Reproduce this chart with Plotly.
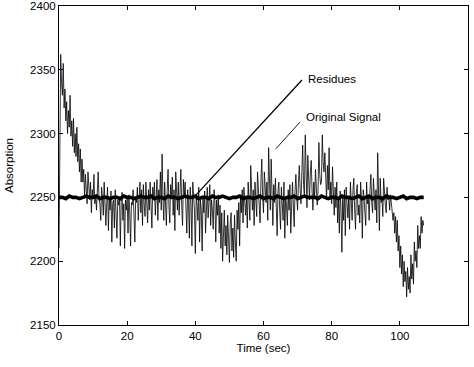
import plotly.graph_objects as go

# ---- data (0.25 s sampling) ----
t_step = 0.25
signal = [
    2210, 2300, 2362, 2340,  2330, 2355, 2320, 2335,  2310, 2325, 2300, 2318,
    2305, 2330, 2298, 2310,  2290, 2312, 2285, 2300,  2282, 2305, 2278, 2292,
    2270, 2288, 2262, 2280,  2262, 2272, 2250, 2268,  2255, 2245, 2270, 2252,
    2248, 2262, 2238, 2256,  2250, 2268, 2245, 2252,  2240, 2255, 2270, 2248,
    2245, 2232, 2258, 2250,  2236, 2262, 2244, 2228,  2246, 2258, 2224, 2250,
    2240, 2255, 2215, 2245,  2248, 2226, 2256, 2240,  2218, 2248, 2244, 2250,
    2212, 2246, 2254, 2232,  2245, 2210, 2248, 2240,  2250, 2222, 2252, 2238,
    2212, 2246, 2244, 2256,  2236, 2215, 2250, 2246,  2258, 2232, 2248, 2262,
    2238, 2256, 2228, 2260,  2244, 2235, 2262, 2248,  2230, 2256, 2240, 2262,
    2244, 2226, 2258, 2248,  2262, 2236, 2250, 2264,  2232, 2256, 2246, 2270,
    2240, 2284, 2250, 2232,  2262, 2248, 2228, 2256,  2272, 2244, 2230, 2260,
    2250, 2266, 2236, 2256,  2224, 2270, 2248, 2240,  2262, 2236, 2254, 2272,
    2244, 2228, 2264, 2250,  2262, 2240, 2222, 2256,  2246, 2218, 2258, 2244,
    2212, 2262, 2250, 2240,  2206, 2250, 2245, 2232,  2258, 2215, 2248, 2240,
    2208, 2250, 2238, 2255,  2222, 2246, 2258, 2234,  2250, 2260, 2228, 2248,
    2240, 2225, 2256, 2246,  2215, 2248, 2236, 2252,  2222, 2244, 2210, 2238,
    2200, 2232, 2240, 2212,  2228, 2205, 2236, 2218,  2199, 2230, 2238, 2208,
    2226, 2203, 2236, 2215,  2200, 2240, 2225, 2246,  2212, 2250, 2238, 2256,
    2230, 2258, 2244, 2236,  2250, 2226, 2262, 2246,  2232, 2275, 2250, 2240,
    2256, 2228, 2262, 2248,  2235, 2270, 2252, 2244,  2230, 2264, 2280, 2250,
    2238, 2270, 2255, 2246,  2262, 2232, 2289, 2252,  2240, 2280, 2254, 2228,
    2260, 2246, 2265, 2236,  2220, 2255, 2262, 2240,  2225, 2258, 2248, 2232,
    2262, 2218, 2250, 2244,  2228, 2256, 2240, 2260,  2222, 2250, 2262, 2244,
    2227, 2255, 2268, 2250,  2240, 2262, 2275, 2256,  2245, 2270, 2291, 2260,
    2250, 2299, 2266, 2242,  2283, 2258, 2248, 2270,  2279, 2255, 2240, 2262,
    2250, 2272, 2258, 2244,  2255, 2293, 2268, 2260,  2262, 2299, 2278, 2270,
    2285, 2262, 2248, 2275,  2256, 2289, 2248, 2262,  2245, 2274, 2255, 2236,
    2258, 2242, 2262, 2230,  2250, 2222, 2255, 2240,  2207, 2250, 2232, 2256,
    2220, 2258, 2246, 2234,  2250, 2225, 2262, 2242,  2232, 2256, 2265, 2240,
    2225, 2254, 2260, 2236,  2244, 2230, 2262, 2248,  2218, 2256, 2250, 2238,
    2228, 2262, 2245, 2250,  2232, 2256, 2268, 2246,  2238, 2265, 2250, 2240,
    2256, 2230, 2285, 2252,  2224, 2265, 2246, 2250,  2235, 2265, 2252, 2244,
    2238, 2258, 2248, 2252,  2240, 2252, 2246, 2236,  2232, 2238, 2222, 2235,
    2215, 2232, 2208, 2220,  2195, 2212, 2190, 2205,  2180, 2200, 2184, 2192,
    2172, 2195, 2178, 2188,  2175, 2205, 2186, 2198,  2182, 2215, 2200, 2208,
    2195, 2228, 2210, 2220,  2210, 2235, 2222, 2232,  2228,
]
residues = [
    2250, 2250, 2249, 2251, 2250, 2250, 2249, 2250, 2251, 2250,
    2250, 2251, 2249, 2250, 2250, 2249, 2250, 2250, 2249, 2251,
    2250, 2250, 2249, 2250, 2251, 2250, 2250, 2251, 2249, 2250,
    2250, 2249, 2251, 2250, 2250, 2249, 2250, 2251, 2250, 2250,
    2251, 2249, 2250, 2250, 2249, 2251, 2250, 2250, 2251, 2250,
    2249, 2250, 2250, 2251, 2249, 2250, 2250, 2249, 2250, 2251,
    2249, 2250, 2250, 2249, 2251, 2250, 2249, 2250, 2250, 2251,
    2249, 2250, 2251, 2250, 2250, 2250, 2249, 2251, 2250, 2249,
    2250, 2250, 2249, 2251, 2250, 2250, 2249, 2250, 2251, 2249,
    2250, 2251, 2249, 2250, 2250, 2249, 2251, 2250, 2250, 2249,
    2250, 2251, 2249, 2250, 2250, 2249, 2250, 2250,
]
res_step = 1.0

x_ticks = [0, 20, 40, 60, 80, 100, 120]
y_ticks = [2150, 2200, 2250, 2300, 2350, 2400]

# annotation anchors (data coords)
res_label = ("Residues", 72.6, 2343)
res_line = (39.9, 2251, 71.3, 2342)
sig_label = ("Original Signal", 72.0, 2313)
sig_line = (63.6, 2288, 70.7, 2309)

t_signal = [i * t_step for i in range(len(signal))]
t_res = [i * res_step for i in range(len(residues))]

fig = go.Figure()
fig.add_trace(go.Scatter(x=t_signal, y=signal, mode="lines",
                         line=dict(color="black", width=0.8), hoverinfo="skip"))
fig.add_trace(go.Scatter(x=t_res, y=residues, mode="lines",
                         line=dict(color="black", width=3.6), hoverinfo="skip"))

font = dict(family="Liberation Sans, Arial, sans-serif", size=11.5, color="black")

for (x0, y0, x1, y1), w in ((res_line, 1.3), (sig_line, 0.9)):
    fig.add_shape(type="line", x0=x0, y0=y0, x1=x1, y1=y1, xref="x", yref="y",
                  line=dict(color="black", width=w))
for txt, x, y in (res_label, sig_label):
    fig.add_annotation(x=x, y=y, text=txt, showarrow=False, xanchor="left",
                       yanchor="middle", font=font)

axis_common = dict(showline=True, linecolor="black", linewidth=1, mirror="ticks",
                   ticks="inside", ticklen=4, tickcolor="black", showgrid=False,
                   zeroline=False, tickfont=font, automargin=False)
fig.update_xaxes(range=[0, 120], tickvals=x_ticks, title=dict(text="Time (sec)", font=font, standoff=2),
                 **axis_common)
fig.update_yaxes(range=[2150, 2400], tickvals=y_ticks, title=dict(text="Absorption", font=font, standoff=14),
                 **axis_common)
fig.update_layout(width=474, height=367, margin=dict(l=59, r=6, t=6, b=42),
                  plot_bgcolor="white", paper_bgcolor="white", showlegend=False,
                  font=font)
fig.write_html("out.html", config={"responsive": False, "displayModeBar": False},
               post_script="document.body.style.margin='0';document.body.style.padding='0';")
